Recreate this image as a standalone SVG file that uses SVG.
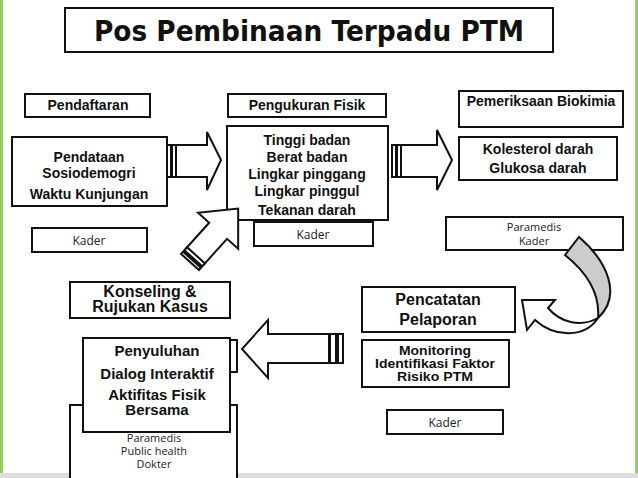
<svg xmlns="http://www.w3.org/2000/svg" width="638" height="478" viewBox="0 0 638 478">
<style>
.b{fill:#fff;stroke:#111;stroke-width:2}
.t{font-family:"Liberation Sans",Arial,sans-serif;font-weight:bold;fill:#111;text-anchor:middle}
.n{font-family:"Open Sans","Noto Sans",sans-serif;fill:#222;text-anchor:middle;font-size:12px}
.s{font-family:"Open Sans","Noto Sans",sans-serif;fill:#222;text-anchor:middle;font-size:11px}
.a{fill:#fff;stroke:#111;stroke-width:2;stroke-linejoin:miter}
</style>
<rect width="638" height="478" fill="#fff"/>
<line x1="1.5" y1="0" x2="1.5" y2="478" stroke="#9c6" stroke-width="3"/>
<line x1="636.5" y1="0" x2="636.5" y2="478" stroke="#9c6" stroke-width="3"/>
<rect x="0" y="473" width="638" height="5" fill="#ddd"/>
<g id="title"><rect class="b" x="65" y="8" width="488" height="44"/>
<text x="309" y="41" font-size="29" font-family="'DejaVu Sans',sans-serif" font-weight="bold" fill="#111" text-anchor="middle" textLength="430" lengthAdjust="spacingAndGlyphs">Pos Pembinaan Terpadu  PTM</text></g>
<g id="pendaftaran"><rect class="b" x="25" y="94" width="125" height="23"/><text class="t" x="88" y="110" font-size="14">Pendaftaran</text></g>
<g id="pendataan"><rect class="b" x="12" y="137" width="155" height="69"/>
<text class="t" x="89" y="162" font-size="14">Pendataan</text><text class="t" x="89" y="178" font-size="14">Sosiodemogri</text><text class="t" x="89" y="199" font-size="14">Waktu Kunjungan</text></g>
<g id="kader1"><rect class="b" x="32" y="228" width="115" height="24"/><text class="n" x="89" y="245">Kader</text></g>
<g id="pengukuran"><rect class="b" x="228" y="94" width="158" height="23"/><text class="t" x="307" y="110" font-size="14">Pengukuran Fisik</text></g>
<g id="kader2"><rect class="b" x="254" y="222" width="119" height="24"/><text class="n" x="313" y="239">Kader</text></g>
<g id="fisik"><rect class="b" x="227" y="126" width="161" height="94"/>
<text class="t" x="307" y="145" font-size="14">Tinggi badan</text><text class="t" x="307" y="162" font-size="14">Berat badan</text><text class="t" x="307" y="179" font-size="14">Lingkar pinggang</text><text class="t" x="307" y="196" font-size="14">Lingkar pinggul</text><text class="t" x="307" y="215" font-size="14">Tekanan darah</text></g>
<g id="biokimia"><rect class="b" x="459" y="91" width="164" height="36"/><text class="t" x="541" y="106" font-size="14">Pemeriksaan Biokimia</text></g>
<g id="kolesterol"><rect class="b" x="459" y="137" width="158" height="43"/><text class="t" x="538" y="154" font-size="14">Kolesterol darah</text><text class="t" x="538" y="173" font-size="14">Glukosa darah</text></g>
<g id="paramedis1"><rect class="b" x="446" y="217" width="177" height="33"/><text class="s" x="534" y="231">Paramedis</text><text class="s" x="534" y="245">Kader</text></g>
<g id="pencatatan"><rect class="b" x="362" y="287" width="153" height="45"/><text class="t" x="438" y="305" font-size="16">Pencatatan</text><text class="t" x="438" y="325" font-size="16">Pelaporan</text></g>
<g id="monitoring"><rect class="b" x="362" y="340" width="147" height="47"/>
<text class="t" x="435" y="355" font-size="13" textLength="72" lengthAdjust="spacingAndGlyphs">Monitoring</text><text class="t" x="435" y="368" font-size="13" textLength="120" lengthAdjust="spacingAndGlyphs">Identifikasi Faktor</text><text class="t" x="435" y="381" font-size="13" textLength="76" lengthAdjust="spacingAndGlyphs">Risiko PTM</text></g>
<g id="kader3"><rect class="b" x="387" y="410" width="116" height="24"/><text class="n" x="445" y="427">Kader</text></g>
<g id="konseling"><rect class="b" x="70" y="282" width="160" height="36"/><text class="t" x="150" y="297" font-size="16">Konseling &amp;</text><text class="t" x="150" y="312" font-size="16">Rujukan Kasus</text></g>
<g id="paramedis2"><path class="b" d="M70,478 V405 H237 V478"/><text class="s" x="154" y="442">Paramedis</text><text class="s" x="154" y="455">Public health</text><text class="s" x="154" y="468">Dokter</text></g>
<g id="penyuluhan"><rect class="b" x="230" y="340" width="7" height="32"/><rect class="b" x="83" y="338" width="147" height="94"/>
<text class="t" x="157" y="356" font-size="15">Penyuluhan</text><text class="t" x="157" y="379" font-size="15">Dialog Interaktif</text><text class="t" x="157" y="400" font-size="15">Aktifitas Fisik</text><text class="t" x="157" y="415" font-size="15">Bersama</text></g>
<g id="connectors">
<path class="a" d="M175,145 H207 V132 L221,160 L207,190 V177 H175 Z"/>
<rect x="167" y="145" width="9" height="32" fill="#fff" stroke="#111" stroke-width="2"/><rect x="170" y="145" width="3" height="32" fill="#111"/>
<path class="a" d="M400,145 H437 V130 L452,160 L437,190 V177 H400 Z"/>
<rect x="392" y="145" width="9" height="32" fill="#fff" stroke="#111" stroke-width="2"/><rect x="395" y="145" width="3" height="32" fill="#111"/>
<g transform="translate(190,262) rotate(-48)">
<path class="a" d="M8,-12 H42 V-27 L72,0 L42,27 V12 H8 Z"/>
<rect x="0" y="-12" width="9" height="24" fill="#fff" stroke="#111" stroke-width="2"/><rect x="2" y="-12" width="4" height="24" fill="#111"/>
</g>
<path class="a" d="M329,334 H268 V320 L242,349 L268,378 V363 H329 Z"/>
<rect x="330" y="334" width="6" height="29" fill="#fff" stroke="#111" stroke-width="2"/><rect x="338" y="334" width="5" height="29" fill="#fff" stroke="#111" stroke-width="2"/>
<path d="M565,255 L579,237 C608,262 622,296 598,318 C600,295 590,275 565,255 Z" fill="#ccc" stroke="#111" stroke-width="2"/>
<path class="a" d="M598,318 C580,328 560,322 548,308 L555,300 L522,300 L527,330 L535,320 C555,338 585,338 598,318 Z"/>
</g>
</svg>
